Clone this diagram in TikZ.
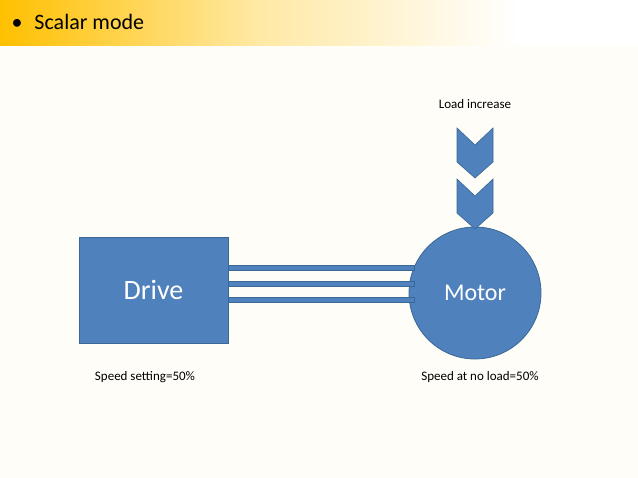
\documentclass[tikz,border=0pt]{standalone}
\usepackage{fontspec}
\setmainfont{Carlito}
\usetikzlibrary{positioning, calc}
\definecolor{slidebg}{HTML}{FFFDF7}
\definecolor{boxblue}{HTML}{4F81BD}
\definecolor{edgeblue}{HTML}{3A6796}
\definecolor{bandorange}{HTML}{FFC000}
\tikzset{
  blockshape/.style={fill=boxblue, draw=edgeblue, line width=0.8pt, text=white, font=\fontsize{28}{30}\selectfont},
  wire/.style={fill=boxblue, draw=edgeblue, line width=0.6pt},
  chevron/.style={fill=boxblue, draw=edgeblue, line width=0.6pt},
  note/.style={font=\fontsize{13}{15}\selectfont, text=black}
}
\begin{document}
\begin{tikzpicture}[x=1pt, y=-1pt]
                \useasboundingbox (0,0) rectangle (638,478);
                \fill[slidebg] (0,0) rectangle (638,478);
                \shade[left color=bandorange, right color=white, middle color={bandorange!35!white}] (0,0) rectangle (520,46);
                \fill[white] (520,0) rectangle (638,46);
                \node[anchor=west, font=\fontsize{22}{24}\selectfont] (title) at (8,22) {\textbullet\hspace{12pt}Scalar mode};
                % main blocks
                \node[blockshape, rectangle, minimum width=149pt, minimum height=106pt] (drive) at (153.5,290) {Drive};
                \node[blockshape, circle, minimum size=132pt, inner sep=0pt, font=\fontsize{24}{26}\selectfont] (motor) at (475,293) {Motor};
                % three supply lines
                \foreach \yy in {268,284,300}
                  \draw[wire] (228,\yy-2.5) rectangle (414,\yy+2.5);
                % load chevrons
                \foreach \top in {128,179}
                  \draw[chevron] (457,\top) -- (475,\top+17) -- (493,\top) -- (493,\top+34) -- (475,\top+50) -- (457,\top+34) -- cycle;
                % labels
                \node[note] (load) at (475,104) {Load increase};
                \node[note] (setting) at (145,377) {Speed setting=50\%};
                \node[note] (speed) at (480,377) {Speed at no load=50\%};
        \end{tikzpicture}
\end{document}
